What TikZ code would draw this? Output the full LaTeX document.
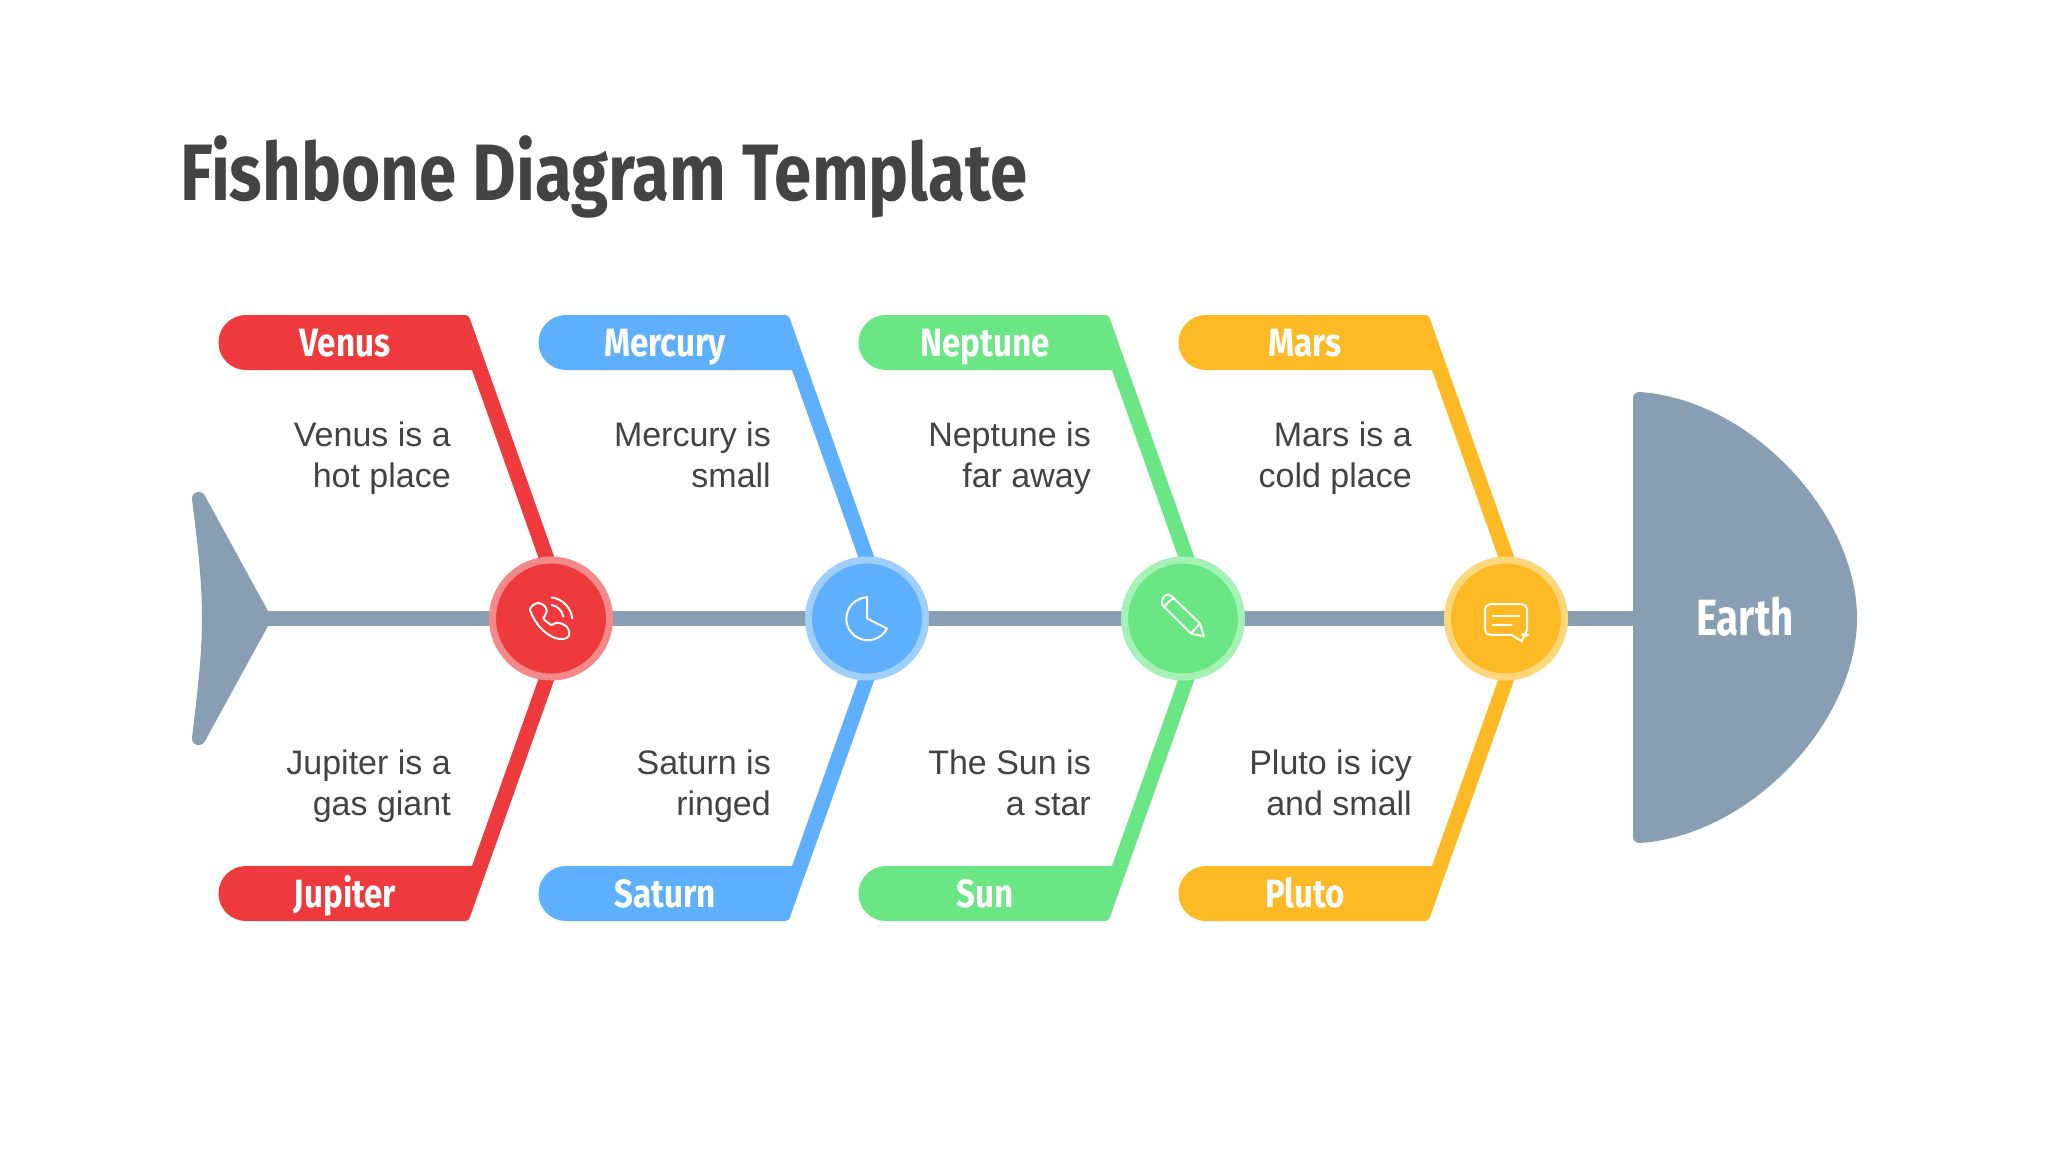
\documentclass[tikz,border=0pt]{standalone}
\usepackage{fontspec}
\setmainfont{Liberation Sans}
\newfontfamily\headfont[FakeStretch=0.84]{Fira Sans Bold}
\newfontfamily\labfont[FakeStretch=0.84]{Fira Sans Bold}
\newfontfamily\bigfont[FakeStretch=0.79]{Fira Sans Bold}
\definecolor{cred}{HTML}{EE3A3C}
\definecolor{cblue}{HTML}{5EAFFD}
\definecolor{cgreen}{HTML}{6AE784}
\definecolor{cyellow}{HTML}{FDBA24}
\definecolor{slate}{HTML}{879EB3}
\definecolor{ink}{HTML}{434343}
\tikzset{
  title/.style={font=\headfont\fontsize{80}{80}\selectfont,text=ink,anchor=base west,inner sep=0},
  lab/.style={font=\labfont\fontsize{39.5}{39.5}\selectfont,text=white,inner sep=0,anchor=base},
  bigl/.style={font=\bigfont\fontsize{51}{51}\selectfont,text=white,inner sep=0,anchor=base},
  desc/.style={font=\fontsize{34}{41}\selectfont,text=ink,align=right,anchor=base east,inner sep=0},
  hub/.style={circle,minimum size=117pt,inner sep=0,line width=7pt},
  ico/.style={draw=white,line width=2pt,line cap=round,line join=round},
}
\newcommand{\ribbon}[2]{% x offset, colour
  \begin{scope}[xshift=#1pt]
  \fill[#2] (246,315) arc[start angle=270,end angle=90,radius=27.5] -- (472,370) -- (560,618.5) -- (576,618.5) -- (470,319) .. controls (469,316) and (468,315) .. (465,315) -- cycle;
  \fill[#2] (246,866) arc[start angle=270,end angle=90,radius=27.5] -- (465,921) .. controls (468,921) and (469,920) .. (470,917) -- (576,618.5) -- (560,618.5) -- (472,866) -- cycle;
  \end{scope}
}
\begin{document}
\begin{tikzpicture}[x=1pt,y=-1pt]
\useasboundingbox (0,0) rectangle (2048,1152);
\fill[white] (0,0) rectangle (2048,1152);
\node[title] (t) at (180,200) {Fishbone Diagram Template};
\coordinate (tail) at (268,618.5);
\coordinate (headc) at (1633,618.5);
% spine
\draw[slate,line width=15pt] (tail) -- (headc);
% tail
\fill[slate] (268,626) -- (205,741) .. controls (201,748) and (192,746) .. (192,738) .. controls (199,680) and (202,650) .. (202,618.5) .. controls (202,585) and (199,555) .. (192,499) .. controls (192,491) and (201,489) .. (205,496) -- (268,611) -- cycle;
% head
\fill[slate] (1640,392) .. controls (1752,400) and (1857,515) .. (1857,618) .. controls (1857,721) and (1752,835) .. (1640,843) .. controls (1636,843) and (1633,841) .. (1633,837) -- (1633,398) .. controls (1633,394) and (1636,392) .. (1640,392) -- cycle;
\node[bigl] (earth) at (1745,635) {Earth};
% hubs
\coordinate (h1) at (551,618.5);
\coordinate (h2) at (867,618.5);
\coordinate (h3) at (1183,618.5);
\coordinate (h4) at (1506,618.5);
\ribbon{0}{cred}
\ribbon{320}{cblue}
\ribbon{640}{cgreen}
\ribbon{960}{cyellow}
\node[hub,fill=cred,draw=cred!60!white] (n1) at (h1) {};
\node[hub,fill=cblue,draw=cblue!60!white] (n2) at (h2) {};
\node[hub,fill=cgreen,draw=cgreen!60!white] (n3) at (h3) {};
\node[hub,fill=cyellow,draw=cyellow!60!white] (n4) at (h4) {};
% labels
\node[lab] (l1) at (345,356) {Venus};
\node[lab] (l2) at (665,356) {Mercury};
\node[lab] (l3) at (985,356) {Neptune};
\node[lab] (l4) at (1305,356) {Mars};
\node[lab] (l5) at (345,907) {Jupiter};
\node[lab] (l6) at (665,907) {Saturn};
\node[lab] (l7) at (985,907) {Sun};
\node[lab] (l8) at (1305,907) {Pluto};
% descriptions
\node[desc] (d1) at (451,487) {Venus is a\\hot place};
\node[desc] (d2) at (771,487) {Mercury is\\small};
\node[desc] (d3) at (1091,487) {Neptune is\\far away};
\node[desc] (d4) at (1412,487) {Mars is a\\cold place};
\node[desc] (d5) at (451,815) {Jupiter is a\\gas giant};
\node[desc] (d6) at (771,815) {Saturn is\\ringed};
\node[desc] (d7) at (1091,815) {The Sun is\\a star};
\node[desc] (d8) at (1412,815) {Pluto is icy\\and small};
% phone icon
\begin{scope}[shift={(h1)},ico]
\draw (-16,-14.5) .. controls (-21,-12) and (-22,-8) .. (-20.3,-6.8) .. controls (-17,2) and (-11,10) .. (-4.3,14.8) .. controls (0,18) and (4,20) .. (9,20.5) .. controls (14,21) and (19,19) .. (18.3,14.8) .. controls (18,11) and (17,10) .. (15.7,8.2) .. controls (13,6) and (9,4) .. (5.7,4.2) .. controls (4,4.5) and (2,6) .. (.7,6.5) .. controls (-3,5) and (-6,2) .. (-7.7,-.2) .. controls (-7,-2) and (-5,-4) .. (-4.3,-6.8) .. controls (-4,-10) and (-7,-14) .. (-9.3,-14.5) .. controls (-11,-16) and (-14,-16) .. (-16,-14.5) -- cycle;
\draw (.7,-13.5) .. controls (7,-12.5) and (11,-8) .. (12.3,-1.8);
\draw (.7,-21) .. controls (11,-20) and (20,-11) .. (21.3,-.2);
\end{scope}
% clock icon
\begin{scope}[shift={(h2)},ico]
\draw (0,-22) -- (0,0) -- (20,10) arc[start angle=27,end angle=267,radius=21.5];
\end{scope}
% pencil icon
\begin{scope}[shift={(h3)},ico]
\draw (-21,-14) .. controls (-22,-18) and (-19,-24) .. (-15,-24) .. controls (-13,-24) and (-11,-22) .. (-9,-20) -- (17,5) -- (21,18) -- (8,15) -- cycle;
\draw (-19,-11) .. controls (-16,-16) and (-12,-19) .. (-9,-20);
\draw (17,5) -- (8,15);
\end{scope}
% chat icon
\begin{scope}[shift={(h4)},ico]
\draw[rounded corners=5pt] (-21,-14.3) -- (21,-14.3) -- (21,16.3) -- (17,16.3) [sharp corners] -- (16,23) -- (5.7,16.3) [rounded corners=5pt] -- (-21,16.3) -- cycle;
\draw (-13.3,-2.7) -- (13,-2.7);
\draw (-13.3,6.3) -- (5.7,6.3);
\end{scope}
\end{tikzpicture}
\end{document}
